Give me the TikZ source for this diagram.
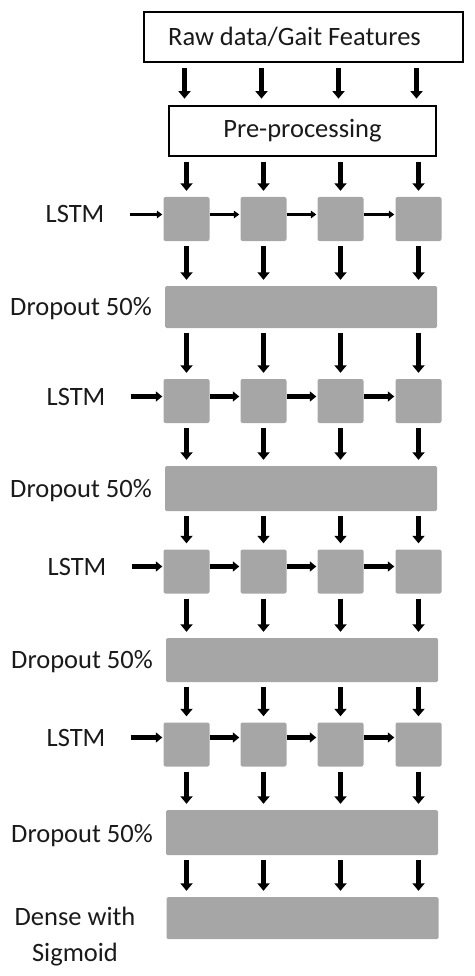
\documentclass[tikz,border=0pt]{standalone}
\usepackage{fontspec}
\setmainfont{Carlito}
\usetikzlibrary{arrows.meta}
\definecolor{cellgray}{HTML}{A6A6A6}
\definecolor{inkcol}{HTML}{1A1A1A}
\begin{document}
\begin{tikzpicture}[x=1pt,y=-1pt,
  txt/.style={font=\fontsize{26.5}{30}\selectfont, text=inkcol, inner sep=0pt, anchor=base},
  whitebox/.style={draw, line width=2.8pt, fill=white, inner sep=0pt, text=inkcol, font=\fontsize{26.5}{30}\selectfont},
  cell/.style={fill=cellgray, rounded corners=2pt, minimum width=46pt, minimum height=44pt, inner sep=0pt},
  bar/.style={fill=cellgray, rounded corners=1.5pt, minimum width=272pt, inner sep=0pt},
  darr/.style={line width=5pt, -{Triangle[width=12pt,length=7.5pt]}, shorten <=5pt, shorten >=6pt},
  harr/.style={line width=4.8pt, -{Triangle[width=10pt,length=6.5pt]}, shorten >=1pt},
  harrthin/.style={line width=2.8pt, -{Triangle[width=7.5pt,length=5.5pt]}, shorten >=1pt}]

\useasboundingbox (0,0) rectangle (474,976);

% top boxes
\node[whitebox, minimum width=319pt, minimum height=50pt] (raw) at (303.5,37) {Raw data/Gait Features\hspace*{18pt}};
\node[whitebox, minimum width=267pt, minimum height=50pt] (pre) at (302.5,131) {Pre-processing};

% LSTM rows
\foreach \r/\y in {1/219, 2/401, 3/571.5, 4/744.5} {
  \node[cell] (s\r1) at (186.5,\y) {};
  \node[cell] (s\r2) at (263.5,\y) {};
  \node[cell] (s\r3) at (340.5,\y) {};
  \node[cell] (s\r4) at (418.5,\y) {};
}

% bars
\node[bar, minimum height=42pt] (d1) at (301,307) {};
\node[bar, minimum height=45pt] (d2) at (301,488.5) {};
\node[bar, minimum height=44pt] (d3) at (302,660) {};
\node[bar, minimum height=45pt] (d4) at (302,832.5) {};
\node[bar, minimum height=42pt] (dense) at (302.5,918) {};

% labels
\node[txt] (l1) at (75,223) {LSTM};
\node[txt] (l2) at (76,405) {LSTM};
\node[txt] (l3) at (77,575) {LSTM};
\node[txt] (l4) at (76,746) {LSTM};
\node[txt] (p1) at (81,315) {Dropout 50\%};
\node[txt] (p2) at (81,497) {Dropout 50\%};
\node[txt] (p3) at (82,668) {Dropout 50\%};
\node[txt] (p4) at (82,842) {Dropout 50\%};
\node[txt] (q1) at (75,925) {Dense with};
\node[txt] (q2) at (75,961) {Sigmoid};

% vertical arrows
\foreach \c in {1,2,3,4} {
  \draw[darr] ([xshift=-2pt]raw.south -| s1\c) -- ([xshift=-2pt]pre.north -| s1\c);
  \draw[darr] (pre.south -| s1\c) -- (s1\c.north);
  \draw[darr] (s1\c.south) -- (d1.north -| s1\c);
  \draw[darr] (d1.south -| s2\c) -- (s2\c.north);
  \draw[darr] (s2\c.south) -- (d2.north -| s2\c);
  \draw[darr] (d2.south -| s3\c) -- (s3\c.north);
  \draw[darr] (s3\c.south) -- (d3.north -| s3\c);
  \draw[darr] (d3.south -| s4\c) -- (s4\c.north);
  \draw[darr] (s4\c.south) -- (d4.north -| s4\c);
  \draw[darr] (d4.south -| s4\c) -- (dense.north -| s4\c);
}

% horizontal arrows
\draw[harrthin] ([xshift=25pt]l1.east) -- (s11.west |- l1.east);
\draw[harrthin] (s11.east |- l1.east) -- (s12.west |- l1.east);
\draw[harrthin] (s12.east |- l1.east) -- (s13.west |- l1.east);
\draw[harrthin] (s13.east |- l1.east) -- (s14.west |- l1.east);
\foreach \r in {2,3,4} {
  \draw[harr] ([xshift=25pt]l\r.east) -- (s\r1.west |- l\r.east);
  \draw[harr] (s\r1.east |- l\r.east) -- (s\r2.west |- l\r.east);
  \draw[harr] (s\r2.east |- l\r.east) -- (s\r3.west |- l\r.east);
  \draw[harr] (s\r3.east |- l\r.east) -- (s\r4.west |- l\r.east);
}
\end{tikzpicture}
\end{document}
